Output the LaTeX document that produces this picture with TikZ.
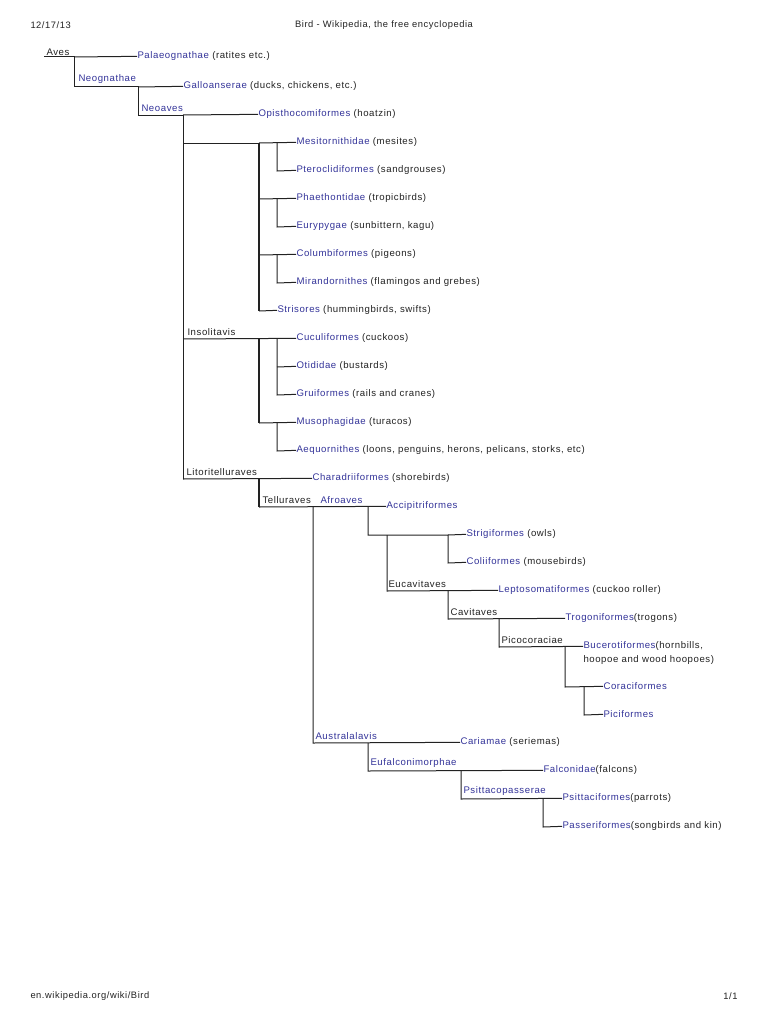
\documentclass[tikz,border=0pt]{standalone}
\usepackage{fontspec}
\setmainfont{Liberation Sans}[LetterSpace=6]
\definecolor{lk}{RGB}{51,51,153}
\definecolor{tx}{RGB}{34,34,34}
\newcommand{\bl}[1]{\textcolor{lk}{#1}}
\begin{document}
\begin{tikzpicture}[x=0.75pt,y=-0.75pt,
  every path/.style={draw=tx,line width=0.75pt},
  heavy/.style={line width=1.5pt},
  leaf/.style={anchor=west,inner sep=0pt,font=\fontsize{7.2}{8}\selectfont,text=tx,yshift=0.5pt},
  lab/.style={anchor=south west,inner sep=0pt,font=\fontsize{7.2}{8}\selectfont,text=tx},
  hd/.style={inner sep=0pt,font=\fontsize{7}{8}\selectfont,text=tx}]
\useasboundingbox[fill=white,draw=none] (0,0) rectangle (768,1024);
\node[hd,anchor=west] (date) at (30,25) {12/17/13};
\node[hd] (title) at (384,25) {Bird - Wikipedia, the free encyclopedia};
\node[hd,anchor=west] (url) at (30,996) {en.wikipedia.org/wiki/Bird};
\node[hd,anchor=east] (pg) at (738,996) {1/1};
% leaves
\node[leaf] (pal) at (137,57) {\bl{Palaeognathae} (ratites etc.)};
\node[leaf] (gal) at (183,87) {\bl{Galloanserae} (ducks, chickens, etc.)};
\node[leaf] (opi) at (258,115) {\bl{Opisthocomiformes} (hoatzin)};
\node[leaf] (mes) at (296,143) {\bl{Mesitornithidae} (mesites)};
\node[leaf] (pte) at (296,171) {\bl{Pteroclidiformes} (sandgrouses)};
\node[leaf] (pha) at (296,199) {\bl{Phaethontidae} (tropicbirds)};
\node[leaf] (eur) at (296,227) {\bl{Eurypygae} (sunbittern, kagu)};
\node[leaf] (col) at (296,255) {\bl{Columbiformes} (pigeons)};
\node[leaf] (mir) at (296,283) {\bl{Mirandornithes} (flamingos and grebes)};
\node[leaf] (str) at (277,311) {\bl{Strisores} (hummingbirds, swifts)};
\node[leaf] (cuc) at (296,339) {\bl{Cuculiformes} (cuckoos)};
\node[leaf] (oti) at (296,367) {\bl{Otididae} (bustards)};
\node[leaf] (gru) at (296,395) {\bl{Gruiformes} (rails and cranes)};
\node[leaf] (mus) at (296,423) {\bl{Musophagidae} (turacos)};
\node[leaf] (aeq) at (296,451) {\bl{Aequornithes} (loons, penguins, herons, pelicans, storks, etc)};
\node[leaf] (cha) at (312,479) {\bl{Charadriiformes} (shorebirds)};
\node[leaf] (acc) at (386,507) {\bl{Accipitriformes}};
\node[leaf] (stg) at (466,535) {\bl{Strigiformes} (owls)};
\node[leaf] (coi) at (466,563) {\bl{Coliiformes} (mousebirds)};
\node[leaf] (lep) at (498,591) {\bl{Leptosomatiformes} (cuckoo roller)};
\node[leaf] (tro) at (565,619) {\bl{Trogoniformes}(trogons)};
\node[leaf] (buc) at (583,647) {\bl{Bucerotiformes}(hornbills,};
\node[leaf] (buc2) at (583,661) {hoopoe and wood hoopoes)};
\node[leaf] (cor) at (603,687) {\bl{Coraciformes}};
\node[leaf] (pic) at (603,715) {\bl{Piciformes}};
\node[leaf] (car) at (460,743) {\bl{Cariamae} (seriemas)};
\node[leaf] (fal) at (543,771) {\bl{Falconidae}(falcons)};
\node[leaf] (psi) at (562,799) {\bl{Psittaciformes}(parrots)};
\node[leaf] (pas) at (562,827) {\bl{Passeriformes}(songbirds and kin)};
% labels
\node[lab] (aves) at (46,56) {Aves};
\node[lab] (neog) at (78,84) {\bl{Neognathae}};
\node[lab] (neoa) at (141,112) {\bl{Neoaves}};
\node[lab] (ins) at (187,336) {Insolitavis};
\node[lab] (lit) at (186,476) {Litoritelluraves};
\node[lab] (tel) at (262,504) {Telluraves};
\node[lab] (afr) at (320,504) {\bl{Afroaves}};
\node[lab] (euc) at (388,588) {Eucavitaves};
\node[lab] (cav) at (450,616) {Cavitaves};
\node[lab] (pco) at (501,644) {Picocoraciae};
\node[lab] (aus) at (315,740) {\bl{Australalavis}};
\node[lab] (euf) at (370,768) {\bl{Eufalconimorphae}};
\node[lab] (psp) at (463,796) {\bl{Psittacopasserae}};
% connectors
\draw (44,57) -- (74,57) -- (74,87) -- (138,87) -- (138,115) -- (183,115) -- (183,479);
\draw (74,57) -- (pal.west);
\draw (138,87) -- (gal.west);
\draw (183,115) -- (opi.west);
\draw (183,143) -- (259,143);
\draw[heavy] (259,143) -- (259,311);
\draw (259,143) -- (mes.west); \draw (277,143) -- (277,171) -- (pte.west);
\draw (259,199) -- (pha.west); \draw (277,199) -- (277,227) -- (eur.west);
\draw (259,255) -- (col.west); \draw (277,255) -- (277,283) -- (mir.west);
\draw (259,311) -- (str.west);
\draw (183,339) -- (cuc.west);
\draw[heavy] (259,339) -- (259,423);
\draw (277,339) -- (277,395) -- (gru.west); \draw (277,367) -- (oti.west);
\draw (259,423) -- (mus.west); \draw (277,423) -- (277,451) -- (aeq.west);
\draw (183,479) -- (cha.west);
\draw[heavy] (259,479) -- (259,507);
\draw (259,507) -- (acc.west);
\draw (313,507) -- (313,743) -- (car.west);
\draw (368,507) -- (368,535) -- (448,535) -- (448,563) -- (coi.west);
\draw (448,535) -- (stg.west);
\draw (387,535) -- (387,591) -- (lep.west);
\draw (448,591) -- (448,619) -- (tro.west);
\draw (499,619) -- (499,647) -- (buc.west);
\draw (565,647) -- (565,687) -- (cor.west);
\draw (584,687) -- (584,715) -- (pic.west);
\draw (368,743) -- (368,771) -- (fal.west);
\draw (461,771) -- (461,799) -- (psi.west);
\draw (543,799) -- (543,827) -- (pas.west);
\end{tikzpicture}
\end{document}
